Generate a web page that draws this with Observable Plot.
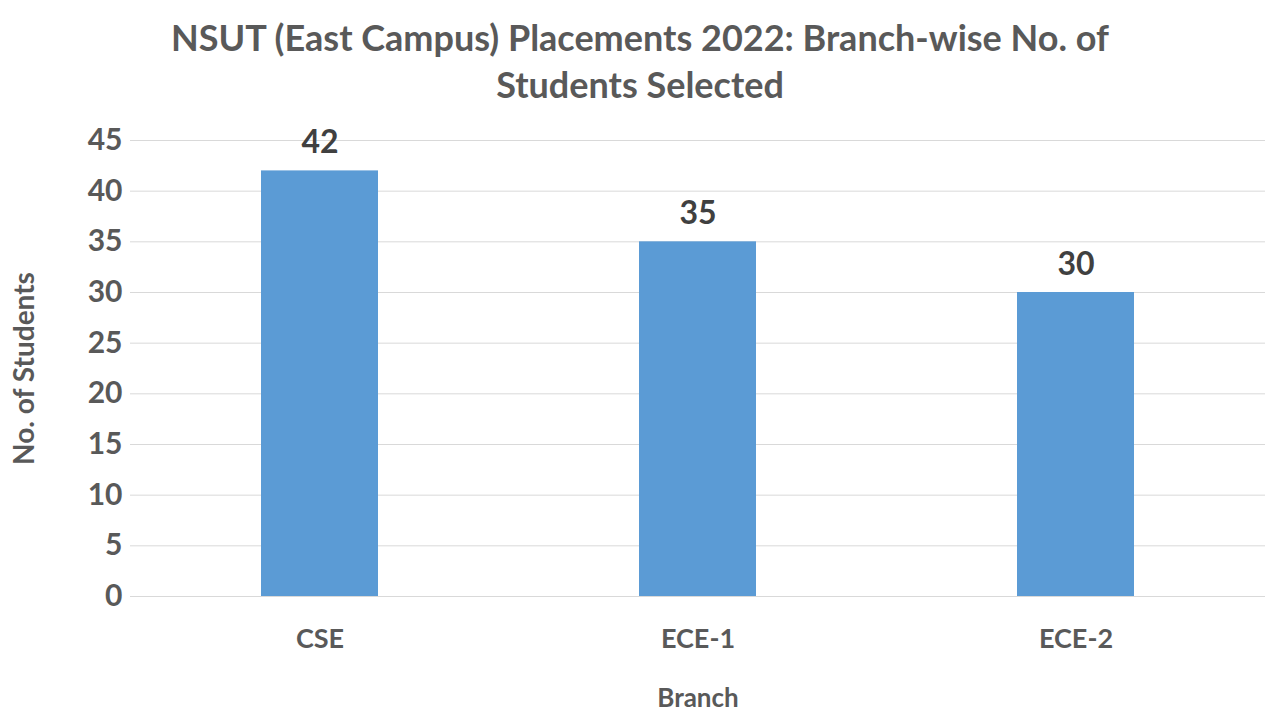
<!DOCTYPE html>
<html>
<head>
<meta charset="utf-8">
<script src="https://cdn.jsdelivr.net/npm/d3@7"></script>
<script src="https://cdn.jsdelivr.net/npm/@observablehq/plot@0.6"></script>
<style>
  html, body { margin: 0; padding: 0; background: #fff; }
  body { width: 1280px; height: 720px; overflow: hidden; font-family: Lato, "Open Sans", sans-serif; }
  #title { height: 110px; box-sizing: border-box; padding-top: 14px; text-align: center; color: #595959; font-weight: bold; font-size: 36px; line-height: 47px; }
</style>
</head>
<body>
<div id="title">NSUT (East Campus) Placements 2022: Branch-wise No. of<br>Students Selected</div>
<div id="chart"></div>
<script>
const branches = ["CSE", "ECE-1", "ECE-2"];
const students = [42, 35, 30];
const yTicks = [0, 5, 10, 15, 20, 25, 30, 35, 40, 45];

const data = branches.map((b, i) => ({branch: b, value: students[i]}));

const chart = Plot.plot({
  width: 1280,
  height: 610,
  marginTop: 30,
  marginBottom: 124,
  marginLeft: 130,
  marginRight: 15,
  style: { fontFamily: "Lato, 'Open Sans', sans-serif", color: "#595959", background: "#fff" },
  x: { domain: branches, paddingInner: 0.69, paddingOuter: 0.345, label: null },
  y: { domain: [0, 45], label: null },
  marks: [
    Plot.gridY(yTicks, { stroke: "#d9d9d9", strokeOpacity: 1, strokeWidth: 1 }),
    Plot.barY(data, { x: "branch", y: "value", fill: "#5b9bd5" }),
    Plot.ruleY([0], { stroke: "#d9d9d9", strokeWidth: 1 }),
    Plot.text(data, { x: "branch", y: "value", text: d => String(d.value), dy: -28, fontSize: 32, fontWeight: "bold", fill: "#404040" }),
    Plot.axisY(yTicks, { tickSize: 0, tickPadding: 8, fontSize: 30, fontWeight: "bold", fill: "#595959", label: null }),
    Plot.axisX({ tickSize: 0, tickPadding: 32, fontSize: 27, fontWeight: "bold", fill: "#595959", label: null }),
    Plot.text(["Branch"], { frameAnchor: "bottom", dy: 110, fontSize: 26, fontWeight: "bold", fill: "#595959" }),
    Plot.text(["No. of Students"], { frameAnchor: "left", textAnchor: "middle", dx: -105, rotate: -90, fontSize: 28, fontWeight: "bold", fill: "#595959" })
  ]
});
document.getElementById("chart").appendChild(chart);
</script>
</body>
</html>
